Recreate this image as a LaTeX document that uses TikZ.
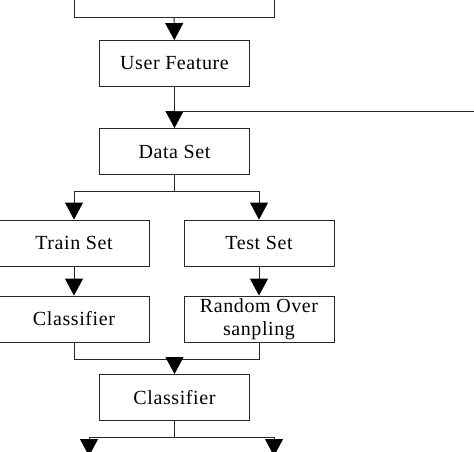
\documentclass[tikz,border=0pt]{standalone}
\usepackage{fontspec}
\setmainfont{Liberation Serif}[LetterSpace=3]
\usetikzlibrary{arrows.meta,positioning}

\begin{document}
\begin{tikzpicture}[x=1pt,y=-1pt,
  box/.style={draw=black!85,line width=0.9pt,fill=white,
              minimum width=150pt,minimum height=46pt,inner sep=0pt,
              font=\fontsize{20}{23}\selectfont,align=center},
  line/.style={draw=black!85,line width=0.9pt},
  arrow/.style={line,-{Triangle[length=17pt,width=18pt,fill=black,color=black]}}
]
\useasboundingbox (0,0) rectangle (474,451);
\clip (0,0) rectangle (474,451);
\node[box,minimum width=200pt] (src) at (174,-6) {};
\node[box] (feature) at (174.5,63.5) {User Feature};
\node[box] (dataset) at (174.5,151.5) {Data Set};
\node[box] (train) at (74,243) {Train Set};
\node[box] (test) at (259,243) {Test Set};
\node[box] (clfa) at (74,319) {Classifier};
\node[box] (ros) at (259,319) {Random Over\\sanpling};
\node[box] (clfb) at (174.5,397.5) {Classifier};
\coordinate (fb) at (480,111);
\coordinate (outl) at (89,456);
\coordinate (outr) at (274,456);
\draw[arrow] (src) -- (feature);
\draw[arrow] (feature) -- (dataset);
\draw[line] (fb) -- (dataset.north |- fb);
\draw[arrow] (dataset.south) -- ++(0,16) -| (train.north);
\draw[arrow] (dataset.south) -- ++(0,16) -| (test.north);
\draw[arrow] (train) -- (clfa);
\draw[arrow] (test) -- (ros);
\draw[line] (clfa.south) -- ++(0,17) -| (ros.south);
\draw[arrow] (clfb.north |- 0,359) -- (clfb.north);
\draw[line] (clfb.south) -- ++(0,16);
\draw[arrow] (clfb.south) ++(0,16) -| (outl);
\draw[arrow] (clfb.south) ++(0,16) -| (outr);
\end{tikzpicture}
\end{document}
